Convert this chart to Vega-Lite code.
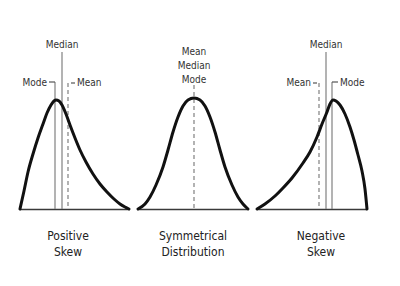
{
  "$schema": "https://vega.github.io/schema/vega-lite/v6.json",
  "width": 400,
  "height": 286,
  "autosize": {"type": "fit", "contains": "padding"},
  "padding": 0,
  "background": "white",
  "config": {"view": {"stroke": null}},
  "datasets": {
    "curves": [
      {"c": "pos", "x": 20, "y": 209}, {"c": "pos", "x": 24, "y": 191}, {"c": "pos", "x": 28, "y": 172}, {"c": "pos", "x": 33, "y": 154},
      {"c": "pos", "x": 38, "y": 138}, {"c": "pos", "x": 43, "y": 124}, {"c": "pos", "x": 47, "y": 113}, {"c": "pos", "x": 51, "y": 105},
      {"c": "pos", "x": 54, "y": 101}, {"c": "pos", "x": 56, "y": 100}, {"c": "pos", "x": 59, "y": 101}, {"c": "pos", "x": 62, "y": 105},
      {"c": "pos", "x": 66, "y": 114}, {"c": "pos", "x": 70, "y": 125}, {"c": "pos", "x": 75, "y": 138}, {"c": "pos", "x": 80, "y": 150},
      {"c": "pos", "x": 86, "y": 162}, {"c": "pos", "x": 93, "y": 174}, {"c": "pos", "x": 100, "y": 184}, {"c": "pos", "x": 107, "y": 192},
      {"c": "pos", "x": 114, "y": 199}, {"c": "pos", "x": 120, "y": 204}, {"c": "pos", "x": 125, "y": 207}, {"c": "pos", "x": 129, "y": 209},
      {"c": "sym", "x": 138, "y": 209}, {"c": "sym", "x": 145, "y": 204}, {"c": "sym", "x": 150, "y": 197}, {"c": "sym", "x": 156, "y": 185},
      {"c": "sym", "x": 163, "y": 167}, {"c": "sym", "x": 168, "y": 150}, {"c": "sym", "x": 173, "y": 132}, {"c": "sym", "x": 178, "y": 117},
      {"c": "sym", "x": 183, "y": 106}, {"c": "sym", "x": 188, "y": 100}, {"c": "sym", "x": 194, "y": 98}, {"c": "sym", "x": 200, "y": 100},
      {"c": "sym", "x": 205, "y": 106}, {"c": "sym", "x": 210, "y": 117}, {"c": "sym", "x": 215, "y": 132}, {"c": "sym", "x": 220, "y": 150},
      {"c": "sym", "x": 225, "y": 167}, {"c": "sym", "x": 232, "y": 185}, {"c": "sym", "x": 238, "y": 197}, {"c": "sym", "x": 243, "y": 204},
      {"c": "sym", "x": 248, "y": 209},
      {"c": "neg", "x": 257, "y": 209}, {"c": "neg", "x": 265, "y": 204}, {"c": "neg", "x": 275, "y": 196}, {"c": "neg", "x": 283, "y": 188},
      {"c": "neg", "x": 292, "y": 178}, {"c": "neg", "x": 303, "y": 163}, {"c": "neg", "x": 310, "y": 152}, {"c": "neg", "x": 317, "y": 137},
      {"c": "neg", "x": 322, "y": 124}, {"c": "neg", "x": 327, "y": 112}, {"c": "neg", "x": 330, "y": 104}, {"c": "neg", "x": 333, "y": 100},
      {"c": "neg", "x": 336, "y": 101}, {"c": "neg", "x": 340, "y": 105}, {"c": "neg", "x": 345, "y": 114}, {"c": "neg", "x": 350, "y": 127},
      {"c": "neg", "x": 354, "y": 140}, {"c": "neg", "x": 358, "y": 155}, {"c": "neg", "x": 362, "y": 171}, {"c": "neg", "x": 365, "y": 189},
      {"c": "neg", "x": 367, "y": 209}
    ],
    "baselines": [
      {"c": "pos", "x": 20, "x2": 129, "y": 209.5},
      {"c": "sym", "x": 138, "x2": 248, "y": 209.5},
      {"c": "neg", "x": 257, "x2": 367, "y": 209.5}
    ],
    "markers": [
      {"c": "pos", "stat": "Mode", "x": 55, "top": 82, "bottom": 209},
      {"c": "pos", "stat": "Median", "x": 62, "top": 52, "bottom": 209},
      {"c": "pos", "stat": "Mean", "x": 68, "top": 83, "bottom": 209},
      {"c": "sym", "stat": "Mean", "x": 194, "top": 85, "bottom": 209},
      {"c": "neg", "stat": "Mean", "x": 319, "top": 83, "bottom": 209},
      {"c": "neg", "stat": "Median", "x": 326, "top": 52, "bottom": 209},
      {"c": "neg", "stat": "Mode", "x": 332, "top": 82, "bottom": 209}
    ],
    "ticks": [
      {"c": "pos", "stat": "Mode", "x": 49, "x2": 55, "y": 82},
      {"c": "pos", "stat": "Mean", "x": 71, "x2": 75, "y": 83},
      {"c": "neg", "stat": "Mean", "x": 313, "x2": 317, "y": 83},
      {"c": "neg", "stat": "Mode", "x": 332, "x2": 338, "y": 82}
    ],
    "labels": [
      {"text": "Median", "x": 62, "y": 45, "side": "center"},
      {"text": "Mode", "x": 47, "y": 83, "side": "left"},
      {"text": "Mean", "x": 77, "y": 83, "side": "right"},
      {"text": "Mean", "x": 194, "y": 52, "side": "center"},
      {"text": "Median", "x": 194, "y": 66, "side": "center"},
      {"text": "Mode", "x": 194, "y": 80, "side": "center"},
      {"text": "Median", "x": 326, "y": 45, "side": "center"},
      {"text": "Mean", "x": 311, "y": 83, "side": "left"},
      {"text": "Mode", "x": 340, "y": 83, "side": "right"}
    ],
    "titles": [
      {"text": "Positive", "x": 68, "y": 236},
      {"text": "Skew", "x": 68, "y": 252},
      {"text": "Symmetrical", "x": 193, "y": 236},
      {"text": "Distribution", "x": 193, "y": 252},
      {"text": "Negative", "x": 321, "y": 236},
      {"text": "Skew", "x": 321, "y": 252}
    ]
  },
  "encoding": {},
  "layer": [
    {
      "data": {"name": "baselines"},
      "mark": {"type": "rule", "color": "#3a3a3a", "strokeWidth": 1.5},
      "encoding": {
        "x": {"field": "x", "type": "quantitative", "scale": {"domain": [0, 400], "nice": false, "zero": false}, "axis": null},
        "x2": {"field": "x2"},
        "y": {"field": "y", "type": "quantitative", "scale": {"domain": [0, 286], "nice": false, "zero": false, "reverse": true}, "axis": null}
      }
    },
    {
      "data": {"name": "markers"},
      "transform": [{"filter": "datum.stat !== 'Mean'"}],
      "mark": {"type": "rule", "color": "#808080", "strokeWidth": 1.2},
      "encoding": {
        "x": {"field": "x", "type": "quantitative"},
        "y": {"field": "top", "type": "quantitative"},
        "y2": {"field": "bottom"}
      }
    },
    {
      "data": {"name": "markers"},
      "transform": [{"filter": "datum.stat === 'Mean'"}],
      "mark": {"type": "rule", "color": "#808080", "strokeWidth": 1.2, "strokeDash": [4, 3]},
      "encoding": {
        "x": {"field": "x", "type": "quantitative"},
        "y": {"field": "top", "type": "quantitative"},
        "y2": {"field": "bottom"}
      }
    },
    {
      "data": {"name": "ticks"},
      "mark": {"type": "rule", "color": "#555555", "strokeWidth": 1.2},
      "encoding": {
        "x": {"field": "x", "type": "quantitative"},
        "x2": {"field": "x2"},
        "y": {"field": "y", "type": "quantitative"}
      }
    },
    {
      "data": {"name": "curves"},
      "mark": {"type": "line", "color": "#111111", "strokeWidth": 3, "interpolate": "monotone", "strokeCap": "round"},
      "encoding": {
        "x": {"field": "x", "type": "quantitative"},
        "y": {"field": "y", "type": "quantitative"},
        "detail": {"field": "c"},
        "order": {"field": "x"}
      }
    },
    {
      "data": {"name": "labels"},
      "transform": [{"filter": "datum.side === 'center'"}],
      "mark": {"type": "text", "align": "center", "baseline": "middle", "font": "DejaVu Sans Condensed, DejaVu Sans, sans-serif", "fontSize": 10, "color": "#333333"},
      "encoding": {
        "x": {"field": "x", "type": "quantitative"},
        "y": {"field": "y", "type": "quantitative"},
        "text": {"field": "text"}
      }
    },
    {
      "data": {"name": "labels"},
      "transform": [{"filter": "datum.side === 'left'"}],
      "mark": {"type": "text", "align": "right", "baseline": "middle", "font": "DejaVu Sans Condensed, DejaVu Sans, sans-serif", "fontSize": 10, "color": "#333333"},
      "encoding": {
        "x": {"field": "x", "type": "quantitative"},
        "y": {"field": "y", "type": "quantitative"},
        "text": {"field": "text"}
      }
    },
    {
      "data": {"name": "labels"},
      "transform": [{"filter": "datum.side === 'right'"}],
      "mark": {"type": "text", "align": "left", "baseline": "middle", "font": "DejaVu Sans Condensed, DejaVu Sans, sans-serif", "fontSize": 10, "color": "#333333"},
      "encoding": {
        "x": {"field": "x", "type": "quantitative"},
        "y": {"field": "y", "type": "quantitative"},
        "text": {"field": "text"}
      }
    },
    {
      "data": {"name": "titles"},
      "mark": {"type": "text", "align": "center", "baseline": "middle", "font": "DejaVu Sans Condensed, DejaVu Sans, sans-serif", "fontSize": 12, "color": "#222222"},
      "encoding": {
        "x": {"field": "x", "type": "quantitative"},
        "y": {"field": "y", "type": "quantitative"},
        "text": {"field": "text"}
      }
    }
  ]
}
